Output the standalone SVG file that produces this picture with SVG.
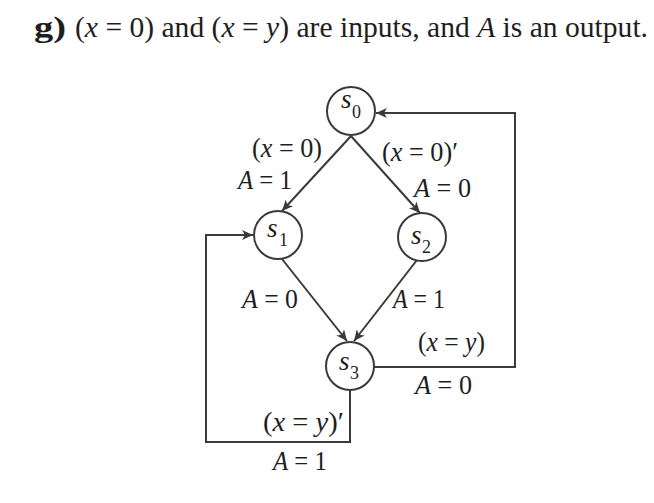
<svg xmlns="http://www.w3.org/2000/svg" width="654" height="503" viewBox="0 0 654 503">
<style>
text{font-family:"Liberation Serif","Times New Roman",serif;fill:#1e1e1e;}
.t{font-size:30px;}
.l{font-size:27px;}
.i{font-style:italic;}
.sub{font-size:18px;}
.node{fill:#fff;stroke:#3a3a3a;stroke-width:2;}
.edge{fill:none;stroke:#3a3a3a;stroke-width:2;}
</style>
<defs>
<marker id="arr" markerUnits="userSpaceOnUse" markerWidth="12" markerHeight="10" refX="11" refY="5" orient="auto">
<path d="M0,0 L11,5 L0,10 L3,5 z" fill="#3a3a3a"/>
</marker>
</defs>
<rect width="654" height="503" fill="#fff"/>
<g id="title">
<text class="t" x="34" y="37" font-weight="bold" textLength="32" lengthAdjust="spacingAndGlyphs">g)</text>
<text class="t" x="75" y="37" textLength="573" lengthAdjust="spacingAndGlyphs">(<tspan class="i">x</tspan> = 0) and (<tspan class="i">x</tspan> = <tspan class="i">y</tspan>) are inputs, and <tspan class="i">A</tspan> is an output.</text>
</g>
<g id="connectors">
<path class="edge" d="M351,136 L282,211" marker-end="url(#arr)"/>
<path class="edge" d="M351,136 L420,213" marker-end="url(#arr)"/>
<path class="edge" d="M282,259 L347,341" marker-end="url(#arr)"/>
<path class="edge" d="M417,260 L354,341" marker-end="url(#arr)"/>
<path class="edge" d="M374,367 H515 V113 H376" marker-end="url(#arr)"/>
<path class="edge" d="M350,390 V442 H206 V235 H253" marker-end="url(#arr)"/>
</g>
<g id="edge-labels">
<text class="l" x="252" y="157" textLength="70" lengthAdjust="spacingAndGlyphs">(<tspan class="i">x</tspan> = 0)</text>
<text class="l" x="238" y="189" textLength="54" lengthAdjust="spacingAndGlyphs"><tspan class="i">A</tspan> = 1</text>
<text class="l" x="382" y="161" textLength="76" lengthAdjust="spacingAndGlyphs">(<tspan class="i">x</tspan> = 0)′</text>
<text class="l" x="414" y="197" textLength="57" lengthAdjust="spacingAndGlyphs"><tspan class="i">A</tspan> = 0</text>
<text class="l" x="242" y="308" textLength="56" lengthAdjust="spacingAndGlyphs"><tspan class="i">A</tspan> = 0</text>
<text class="l" x="393" y="308" textLength="52" lengthAdjust="spacingAndGlyphs"><tspan class="i">A</tspan> = 1</text>
<text class="l" x="418" y="351" textLength="67" lengthAdjust="spacingAndGlyphs">(<tspan class="i">x</tspan> = <tspan class="i">y</tspan>)</text>
<text class="l" x="415" y="394" textLength="57" lengthAdjust="spacingAndGlyphs"><tspan class="i">A</tspan> = 0</text>
<text class="l" x="263" y="431" textLength="81" lengthAdjust="spacingAndGlyphs">(<tspan class="i">x</tspan> = <tspan class="i">y</tspan>)′</text>
<text class="l" x="273" y="470" textLength="54" lengthAdjust="spacingAndGlyphs"><tspan class="i">A</tspan> = 1</text>
</g>
<g id="s0">
<circle class="node" cx="351" cy="111" r="24"/>
<text class="l i" x="341" y="108">s</text><text class="sub" x="352" y="118">0</text>
</g>
<g id="s1">
<circle class="node" cx="278" cy="235" r="24"/>
<text class="l i" x="267" y="237">s</text><text class="sub" x="279" y="246">1</text>
</g>
<g id="s2">
<circle class="node" cx="422" cy="237" r="24"/>
<text class="l i" x="411" y="244">s</text><text class="sub" x="422" y="253">2</text>
</g>
<g id="s3">
<circle class="node" cx="350" cy="366" r="24"/>
<text class="l i" x="339" y="370">s</text><text class="sub" x="350" y="379">3</text>
</g>
</svg>
